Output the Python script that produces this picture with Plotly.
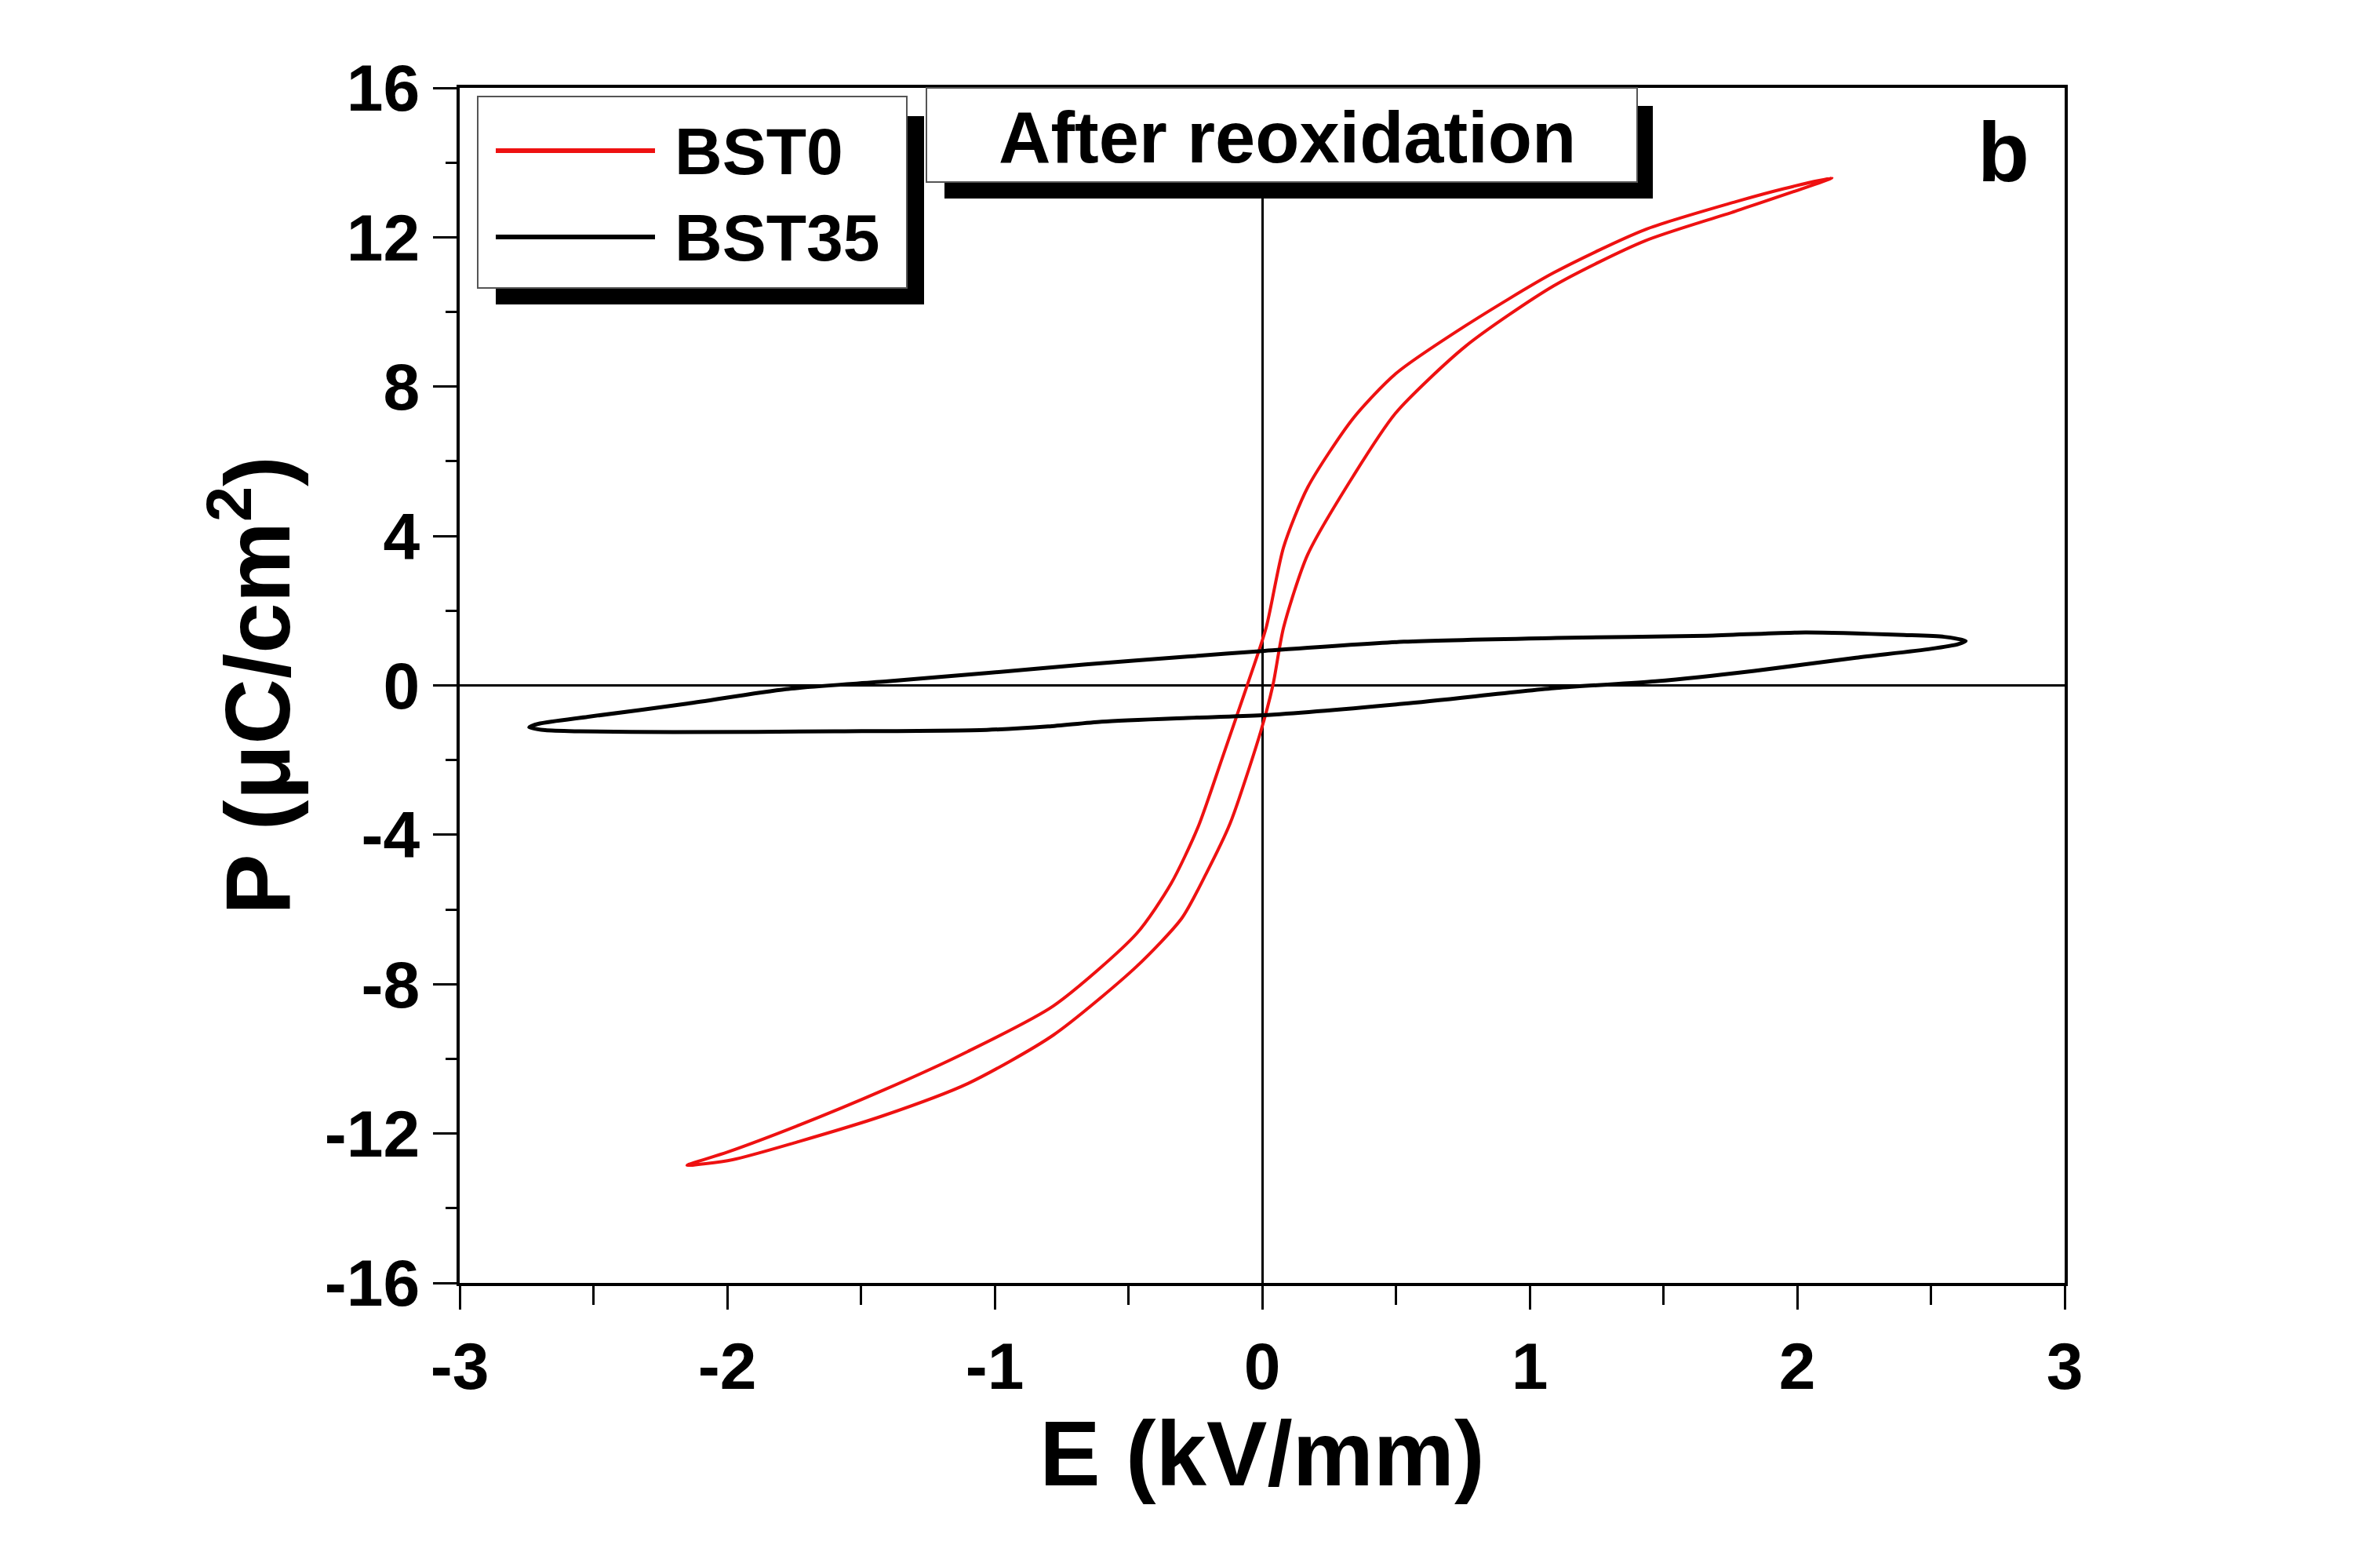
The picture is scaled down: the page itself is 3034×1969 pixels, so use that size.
import plotly.graph_objects as go

# ---------------- data ----------------
series_names = ["BST0", "BST35"]
series_colors = ["#ee1111", "#000000"]

bst0_E = [2.13, 1.95, 1.77, 1.43, 1.09, 0.76, 0.50, 0.34, 0.17, 0.08, 0.015, -0.056,
          -0.15, -0.24, -0.34, -0.47, -0.78, -1.10, -1.42, -1.74, -2.00, -2.15,
          -1.98, -1.74, -1.42, -1.10, -0.78, -0.47, -0.30, -0.21, -0.12, -0.006,
          0.04, 0.08, 0.17, 0.34, 0.50, 0.76, 1.09, 1.43, 1.77, 2.13]
bst0_P = [13.59, 13.30, 12.95, 12.20, 11.05, 9.63, 8.35, 7.15, 5.30, 3.70, 1.55, 0.0,
          -1.96, -3.80, -5.30, -6.65, -8.58, -9.80, -10.85, -11.80, -12.50, -12.85,
          -12.70, -12.23, -11.53, -10.66, -9.36, -7.53, -6.23, -5.05, -3.70, -1.25,
          0.0, 1.55, 3.50, 5.60, 7.30, 9.08, 10.70, 11.90, 12.70, 13.59]

bst35_E = [2.63, 2.55, 2.40, 2.03, 1.66, 1.10, 0.53, 0.0, -0.28, -0.66, -1.03, -1.40,
           -1.78, -2.15, -2.52, -2.70, -2.74, -2.68, -2.55, -2.20, -1.60, -1.03,
           -0.80, -0.60, -0.28, 0.0, 0.53, 1.10, 1.47, 1.84, 2.22, 2.50, 2.60, 2.63]
bst35_P = [1.19, 1.30, 1.35, 1.42, 1.33, 1.27, 1.17, 0.92, 0.77, 0.56, 0.33, 0.11,
           -0.10, -0.49, -0.84, -1.02, -1.12, -1.20, -1.23, -1.25, -1.23, -1.19,
           -1.10, -0.97, -0.87, -0.80, -0.49, -0.07, 0.11, 0.39, 0.74, 0.98, 1.10, 1.19]

x_tickvals = [-3, -2, -1, 0, 1, 2, 3]
x_ticktext = ["-3", "-2", "-1", "0", "1", "2", "3"]
y_tickvals = [-16, -12, -8, -4, 0, 4, 8, 12, 16]
y_ticktext = ["-16", "-12", "-8", "-4", "0", "4", "8", "12", "16"]

x_title = "E (kV/mm)"
y_title = "P (μC/cm<sup>2</sup>)"
panel_title = "After reoxidation"
panel_label = "b"

# ---------------- layout helpers ----------------
W, H = 3034, 1969
L, R, T, B = 586, 2632, 112, 1635
FONT = "Liberation Sans"


def px(xp):
    return (xp - L) / (R - L)


def py(yp):
    return (B - yp) / (B - T)


fig = go.Figure()
fig.add_trace(go.Scatter(x=bst0_E, y=bst0_P, mode="lines", name=series_names[0],
                         line=dict(color=series_colors[0], width=4, shape="spline", smoothing=0.7),
                         showlegend=False))
fig.add_trace(go.Scatter(x=bst35_E, y=bst35_P, mode="lines", name=series_names[1],
                         line=dict(color=series_colors[1], width=5, shape="spline", smoothing=0.7),
                         showlegend=False))

shapes = []
annotations = []


def rect(x0, y0, x1, y1, fill, line_color=None, lw=0):
    shapes.append(dict(type="rect", xref="paper", yref="paper",
                       x0=px(x0), x1=px(x1), y0=py(y1), y1=py(y0),
                       fillcolor=fill, layer="above",
                       line=dict(color=line_color or fill, width=lw)))


# legend box with shadow
rect(632, 148, 1178, 388, "black")
rect(609, 123, 1156, 367, "white", "#555555", 2)
legend_rows = [192, 302]
for name, color, yrow in zip(series_names, series_colors, legend_rows):
    shapes.append(dict(type="line", xref="paper", yref="paper",
                       x0=px(632), x1=px(835), y0=py(yrow), y1=py(yrow),
                       layer="above", line=dict(color=color, width=6)))
    annotations.append(dict(xref="paper", yref="paper", x=px(858), y=py(yrow + 1),
                            text=name, showarrow=False, xanchor="left", yanchor="middle",
                            font=dict(family=FONT, size=84, color="black", weight="bold")))

# panel title box with shadow
rect(1204, 135, 2107, 253, "black")
rect(1181, 112, 2087, 232, "white", "#555555", 2)
annotations.append(dict(xref="paper", yref="paper", x=px(1641), y=py(175),
                        text=panel_title, showarrow=False, xanchor="center", yanchor="middle",
                        font=dict(family=FONT, size=92, color="black", weight="bold")))

# panel label
annotations.append(dict(xref="paper", yref="paper", x=px(2554), y=py(193),
                        text=panel_label, showarrow=False, xanchor="center", yanchor="middle",
                        font=dict(family=FONT, size=108, color="black", weight="bold")))

axis_common = dict(showline=True, mirror=True, linecolor="black", linewidth=4,
                   ticks="outside", tickwidth=3, tickcolor="black", ticklen=30,
                   showgrid=False, zeroline=True, zerolinecolor="black", zerolinewidth=3,
                   tickfont=dict(family=FONT, size=84, color="black", weight="bold"))

fig.update_xaxes(range=[-3, 3], tickvals=x_tickvals, ticktext=x_ticktext,
                 minor=dict(dtick=0.5, ticklen=24, tickwidth=3, tickcolor="black", ticks="outside"),
                 title=dict(text=x_title, standoff=22,
                            font=dict(family=FONT, size=116, color="black", weight="bold")),
                 **axis_common)
fig.update_yaxes(range=[-16, 16], tickvals=y_tickvals, ticktext=y_ticktext,
                 minor=dict(dtick=2, ticklen=14, tickwidth=3, tickcolor="black", ticks="outside"),
                 title=dict(text=y_title, standoff=6,
                            font=dict(family=FONT, size=116, color="black", weight="bold")),
                 **axis_common)

fig.update_layout(width=W, height=H, margin=dict(l=L, r=W - R, t=T, b=H - B),
                  paper_bgcolor="white", plot_bgcolor="white",
                  shapes=shapes, annotations=annotations, showlegend=False)

fig.write_html("out.html")
